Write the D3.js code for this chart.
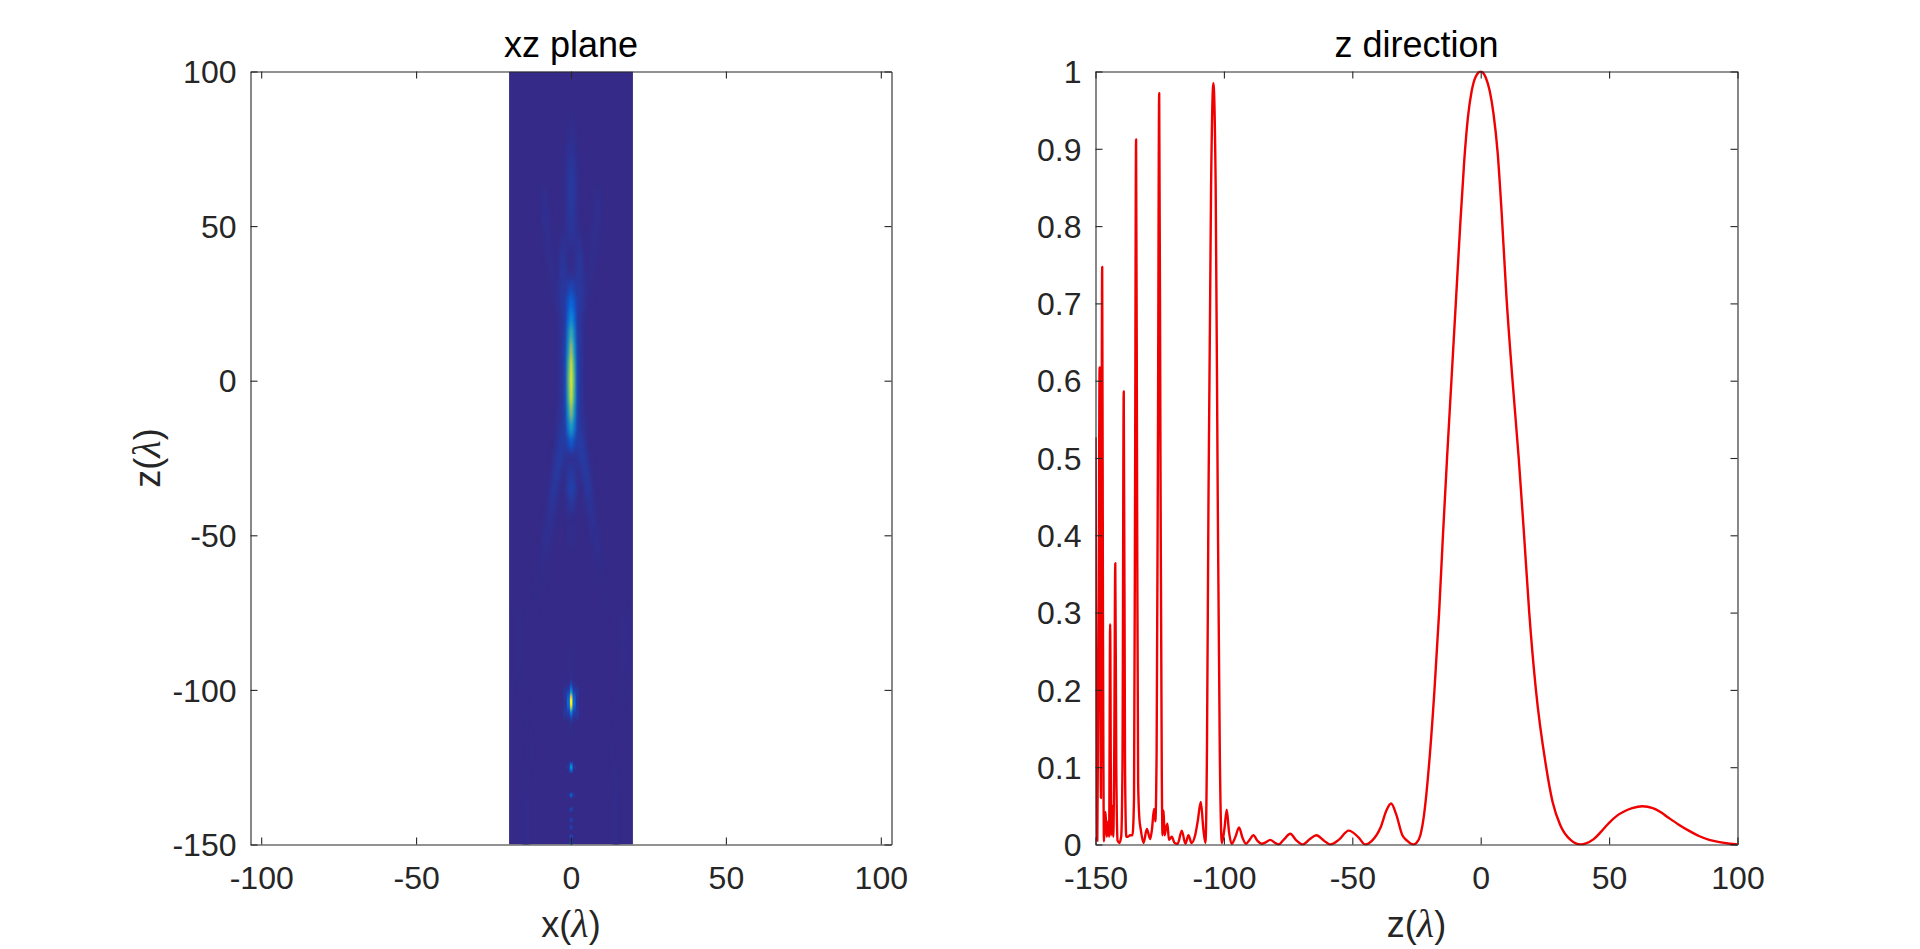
<!DOCTYPE html>
<html>
<head>
<meta charset="utf-8">
<script src="https://cdn.jsdelivr.net/npm/d3@7"></script>
<style>
  html, body { margin: 0; background: white; }
  svg { display: block; }
  text { font-family: "Liberation Sans", Arial, sans-serif; fill: #262626; }
  .lam { font-family: "Liberation Serif", serif; font-style: italic; font-size: 40px; }
</style>
</head>
<body>
<div id="canvas"></div>
<script>
"use strict";

// axis ticks
var planeXTicks = [-100, -50, 0, 50, 100];
var planeZTicks = [-150, -100, -50, 0, 50, 100];
var lineZTicks = [-150, -100, -50, 0, 50, 100];
var lineVTicks = [0, 0.1, 0.2, 0.3, 0.4, 0.5, 0.6, 0.7, 0.8, 0.9, 1];

// z direction curve
var lineZ = [-150, -149.6, -149.3, -148.8, -148.4, -148.1, -147.9, -147.7, -147.4, -147.1, -146.7, -146.1, -145.6, -145, -144.7, -144.3, -143.9, -143.5, -143.1, -142.7, -142.3, -141.9, -141.4, -140.7, -140, -139.5, -139, -138.5, -138, -137.4, -136.5, -135.6, -135, -134.6, -134.2, -133.8, -133.4, -132.9, -132.4, -131.3, -130, -128.7, -128, -127.2, -126.7, -126.2, -125.7, -125.2, -124.7, -124.2, -123.9, -123.5, -123.1, -122.6, -122, -121.4, -120.3, -119.2, -118, -116.4, -115, -113.8, -112.6, -111.2, -110.2, -109, -108, -107.2, -106.6, -106, -105, -104.1, -103.2, -102.4, -101.6, -100.8, -99.8, -98.9, -98, -97, -95.5, -94.1, -92.7, -91.4, -90, -88.5, -87, -85.3, -83.6, -82, -80, -78.7, -76.5, -74.2, -71.7, -69.3, -66.5, -64, -61, -58.6, -55.3, -51.4, -47.5, -45, -42.3, -39, -36.6, -34.9, -33, -30.5, -28.7, -26.2,
  -25, -23.5, -22, -20.2, -18, -16.2, -14.7, -13.1, -11.4, -9.7, -8, -6.4, -5, -3.5, -2, 0, 2, 3.5, 5, 6.6, 8.2, 10, 12.4, 14.8, 16.9, 18.9, 21.5, 25.5, 28, 31, 35, 39,
  41, 44, 47, 50, 53, 56, 59, 63, 67, 70, 73, 77, 81, 85, 89, 93, 97, 100];
var lineV = [0.527, 0.1, 0.005, 0.25, 0.617, 0.3, 0.06, 0.35, 0.747, 0.3, 0.004, 0.042, 0.01, 0.03, 0.01, 0.285, 0.012, 0.05, 0.01, 0.12, 0.364, 0.1, 0.005, 0.002, 0.01, 0.1, 0.586, 0.1, 0.01, 0.01, 0.012, 0.012, 0.06, 0.45, 0.912, 0.45, 0.08, 0.033, 0.02, 0.002, 0.02, 0.007, 0.02, 0.046, 0.03, 0.12, 0.5, 0.972, 0.5, 0.1, 0.012, 0.044, 0.012, 0.02, 0.027, 0.006, 0.01, 0.002, 0.001, 0.018, 0.001, 0.012, 0.002, 0.012, 0.03, 0.055, 0.02, 0.002, 0.12, 0.45, 0.85, 0.985, 0.85, 0.45, 0.12, 0.002, 0.02, 0.045, 0.016, 0.001, 0.01, 0.022, 0.008, 0.001, 0.006, 0.012, 0.005, 0.001, 0.003, 0.006, 0.002, 0, 0.007, 0.014, 0.005, 0, 0.007, 0.012, 0.005, 0, 0.006, 0.018, 0.009, 0, 0.005, 0.022, 0.045, 0.053, 0.04, 0.012, 0.005, 0,
  0.002, 0.012, 0.04, 0.1, 0.2, 0.3, 0.4, 0.5, 0.6, 0.7, 0.8, 0.885, 0.94, 0.975, 0.993, 1, 0.992, 0.975, 0.945, 0.895, 0.815, 0.71, 0.6, 0.5, 0.4, 0.3, 0.2, 0.1, 0.055, 0.025, 0.006, 0,
  0.0015, 0.007, 0.017, 0.028, 0.037, 0.043, 0.047, 0.0495, 0.047, 0.042, 0.035, 0.026, 0.018, 0.011, 0.006, 0.003, 0.001, 0];

// xz plane, coarse rows: z of each row and intensity at |x| = 0, 1, 2, ... (unlisted = 0)
var fieldZ = [90, 85, 80, 75, 70, 65, 60, 55, 50, 45, 40, 35, 30, 25, 20, 15, 10, 5, 0, -5, -10, -15, -20, -25, -30, -35, -40, -45, -50, -55, -60, -70, -80, -90, -100, -110, -120, -130, -140, -150];
var fieldRows = [
  [],
  [0.006],
  [0.012, 0.008],
  [0.02, 0.016, 0.004],
  [0.03, 0.022, 0.008],
  [0.036, 0.03, 0.01],
  [0.036, 0.03, 0.01, 0, 0, 0, 0, 0, 0.008, 0.01, 0.004],
  [0.034, 0.026, 0.008, 0, 0, 0, 0, 0.005, 0.012, 0.012, 0.004],
  [0.03, 0.022, 0.008, 0.004, 0, 0, 0, 0.008, 0.012, 0.01],
  [0.02, 0.016, 0.015, 0.015, 0.005, 0, 0.003, 0.01, 0.01, 0.004],
  [0.004, 0.008, 0.022, 0.028, 0.012, 0, 0.006, 0.01, 0.006],
  [0.01, 0.012, 0.026, 0.03, 0.015, 0.004, 0.008, 0.008],
  [0.07, 0.05, 0.03, 0.03, 0.02, 0.008, 0.008, 0.003],
  [0.16, 0.1, 0.04, 0.03, 0.02, 0.008],
  [0.3, 0.16, 0.04, 0.025, 0.012],
  [0.52, 0.27, 0.05, 0.025, 0.012],
  [0.75, 0.38, 0.06, 0.025, 0.012],
  [0.95, 0.5, 0.07, 0.025, 0.012],
  [1, 0.54, 0.07, 0.025, 0.012],
  [0.96, 0.5, 0.07, 0.025, 0.012],
  [0.72, 0.38, 0.06, 0.025, 0.015],
  [0.42, 0.22, 0.05, 0.03, 0.02, 0.008],
  [0.12, 0.065, 0.04, 0.04, 0.03, 0.012],
  [0.012, 0.015, 0.02, 0.035, 0.04, 0.025, 0.006],
  [0.035, 0.03, 0.01, 0.012, 0.03, 0.035, 0.018, 0.005],
  [0.055, 0.045, 0.01, 0, 0.012, 0.028, 0.03, 0.012],
  [0.03, 0.02, 0.005, 0, 0.004, 0.014, 0.024, 0.018, 0.005],
  [0.005, 0.004, 0, 0, 0, 0.005, 0.012, 0.018, 0.01, 0.003],
  [0.012, 0.008, 0, 0, 0, 0, 0.006, 0.012, 0.014, 0.01],
  [0.005, 0, 0, 0, 0, 0, 0, 0.004, 0.01, 0.01, 0.005],
  [0, 0, 0, 0, 0, 0, 0, 0, 0.002, 0.004, 0.004],
  [0, 0, 0, 0, 0, 0, 0, 0, 0, 0, 0, 0.002, 0.002],
  [0, 0, 0, 0, 0, 0, 0, 0, 0, 0, 0, 0, 0, 0, 0, 0, 0.003, 0.006, 0.003],
  [0.008, 0, 0, 0, 0, 0, 0, 0, 0, 0, 0, 0, 0, 0, 0, 0, 0.003, 0.006, 0.003],
  [0.008, 0, 0, 0, 0, 0, 0, 0, 0, 0, 0, 0, 0, 0, 0, 0, 0.002, 0.003],
  [0.008, 0, 0, 0, 0, 0, 0, 0, 0, 0, 0, 0, 0, 0, 0.002, 0.002],
  [0, 0, 0, 0, 0, 0, 0, 0, 0, 0, 0, 0, 0, 0.002, 0.003],
  [0, 0, 0, 0, 0, 0, 0, 0, 0, 0, 0, 0, 0, 0, 0.005, 0.003],
  [0, 0, 0, 0, 0, 0, 0, 0, 0, 0, 0, 0, 0, 0, 0.006, 0.004],
  [0, 0, 0, 0, 0, 0, 0, 0, 0, 0, 0, 0, 0, 0, 0.006, 0.004]
];

// xz plane, the small spots on the axis, 1 lambda rows
var spotZ = [-97, -98, -99, -100, -101, -102, -103, -104, -105, -106, -107, -108, -109, -110, -124, -125, -126, -134, -138.6, -142, -144.4, -147.4, -149.5];
var spotRows = [
  [0.02],
  [0.05, 0.01],
  [0.12, 0.02, 0.01],
  [0.22, 0.04, 0.025],
  [0.42, 0.07, 0.03],
  [0.72, 0.11, 0.025],
  [0.95, 0.14, 0.02],
  [1, 0.15, 0.015],
  [0.9, 0.14, 0.02],
  [0.6, 0.1, 0.025],
  [0.3, 0.06, 0.03],
  [0.15, 0.03, 0.03],
  [0.07, 0.02, 0.02],
  [0.03, 0.01],
  [0.12],
  [0.36, 0.03],
  [0.12],
  [0.15, 0.02],
  [0.07],
  [0.06],
  [0.06],
  [0.07],
  [0.07]
];

var fieldHalfWidth = 20;

var parulaStops = [0, 0.125, 0.25, 0.375, 0.5, 0.625, 0.75, 0.875, 1];
var parulaColors = ["#352a87", "#0363e1", "#1485d4", "#06a7c6", "#38b99e", "#92bf73", "#d9ba56", "#fcce2e", "#f9fb0e"];

var color = d3.scaleLinear().domain(parulaStops).range(parulaColors);

var svg = d3.select("#canvas").append("svg")
  .attr("width", 1920)
  .attr("height", 949);

var defs = svg.append("defs");
function addBlur(id, sx, sy) {
  defs.append("filter").attr("id", id)
    .attr("x", "-5%").attr("y", "-5%").attr("width", "110%").attr("height", "110%")
    .attr("color-interpolation-filters", "sRGB")
    .append("feGaussianBlur").attr("stdDeviation", sx + " " + sy);
}
addBlur("blurField", 1.2, 5);
addBlur("blurSpot", 0.6, 0.8);

var yTop = 71.5, yBottom = 844.5;

// left panel
var xPlane = d3.scaleLinear().domain([-103.45, 103.45]).range([250.5, 891.5]);
var zPlane = d3.scaleLinear().domain([-150, 100]).range([yBottom, yTop]);

// right panel
var zLine = d3.scaleLinear().domain([-150, 100]).range([1095.5, 1737.5]);
var vLine = d3.scaleLinear().domain([0, 1]).range([yBottom, yTop]);

defs.append("clipPath").attr("id", "planeClip").append("rect")
  .attr("x", xPlane(-fieldHalfWidth))
  .attr("y", yTop)
  .attr("width", xPlane(fieldHalfWidth) - xPlane(-fieldHalfWidth))
  .attr("height", yBottom - yTop);

defs.append("clipPath").attr("id", "lineClip").append("rect")
  .attr("x", 1095.5).attr("y", yTop - 1).attr("width", 642).attr("height", yBottom - yTop + 2);

var plane = svg.append("g").attr("clip-path", "url(#planeClip)");

plane.append("rect")
  .attr("x", xPlane(-fieldHalfWidth))
  .attr("y", yTop)
  .attr("width", xPlane(fieldHalfWidth) - xPlane(-fieldHalfWidth))
  .attr("height", yBottom - yTop)
  .attr("fill", color(0));

// turn a row table into mirrored cells
function cellsOf(rows, rowEdge) {
  var cells = [];
  rows.forEach(function(row, i) {
    var edges = rowEdge(i);
    row.forEach(function(v, k) {
      if (v <= 0) return;
      cells.push({ x0: k - 0.5, x1: k + 0.5, z0: edges[0], z1: edges[1], v: v });
      if (k > 0) cells.push({ x0: -k - 0.5, x1: -k + 0.5, z0: edges[0], z1: edges[1], v: v });
    });
  });
  return cells;
}

function drawCells(parent, cells) {
  parent.selectAll("rect").data(cells).enter()
    .append("rect")
    .attr("x", function(d){ return xPlane(d.x0); })
    .attr("y", function(d){ return zPlane(d.z1); })
    .attr("width", function(d){ return xPlane(d.x1) - xPlane(d.x0) + 0.3; })
    .attr("height", function(d){ return zPlane(d.z0) - zPlane(d.z1) + 0.3; })
    .attr("fill", function(d){ return color(d.v); });
}

var fieldCells = cellsOf(fieldRows, function(i) {
  var hi = i > 0 ? (fieldZ[i - 1] + fieldZ[i]) / 2 : fieldZ[i] + 2.5;
  var lo = i < fieldZ.length - 1 ? (fieldZ[i] + fieldZ[i + 1]) / 2 : fieldZ[i] - 2.5;
  return [lo, hi];
});
var spotCells = cellsOf(spotRows, function(i) {
  return [spotZ[i] - 0.5, spotZ[i] + 0.5];
});

drawCells(plane.append("g").attr("filter", "url(#blurField)"), fieldCells);
drawCells(plane.append("g").attr("filter", "url(#blurSpot)"), spotCells);

// right curve
var curve = d3.line()
  .x(function(d){ return zLine(d); })
  .y(function(d, i){ return vLine(lineV[i]); })
  .curve(d3.curveMonotoneX);

svg.append("g").attr("clip-path", "url(#lineClip)").append("path")
  .attr("d", curve(lineZ))
  .attr("fill", "none")
  .attr("stroke", "#f00000")
  .attr("stroke-width", 2.4)
  .attr("stroke-linejoin", "round");

// axes, ticks point inward on all four sides as in matlab
function drawBox(xScale, yScale, xTicks, yTicks) {
  var ax = [
    d3.axisBottom(xScale).tickValues(xTicks).tickSizeInner(-7).tickSizeOuter(0).tickPadding(22).tickFormat(String),
    d3.axisTop(xScale).tickValues(xTicks).tickSizeInner(-7).tickSizeOuter(0).tickFormat(""),
    d3.axisLeft(yScale).tickValues(yTicks).tickSizeInner(-7).tickSizeOuter(0).tickPadding(14).tickFormat(String),
    d3.axisRight(yScale).tickValues(yTicks).tickSizeInner(-7).tickSizeOuter(0).tickFormat("")
  ];
  var xr = xScale.range();
  var pos = ["translate(0," + yBottom + ")", "translate(0," + yTop + ")",
    "translate(" + xr[0] + ",0)", "translate(" + xr[1] + ",0)"];
  ax.forEach(function(a, i) {
    var g = svg.append("g").attr("transform", pos[i]).call(a);
    g.selectAll("path, line").attr("stroke", "#262626").attr("stroke-width", 1.1);
    g.selectAll("text")
      .attr("fill", "#262626")
      .style("font-size", "32px")
      .style("font-family", "'Liberation Sans', Arial, sans-serif");
    if (i === 2) g.selectAll("text").attr("dy", "0.35em");
  });
}

drawBox(xPlane, zPlane, planeXTicks, planeZTicks);
drawBox(zLine, vLine, lineZTicks, lineVTicks);

// titles and labels
function title(x, txt) {
  svg.append("text").attr("x", x).attr("y", 57)
    .attr("text-anchor", "middle")
    .style("font-size", "36px")
    .style("fill", "#000")
    .text(txt);
}
title(571, "xz plane");
title(1416.5, "z direction");

function lamLabel(x, y, name, rotate) {
  var t = svg.append("text")
    .attr("text-anchor", "middle")
    .style("font-size", "36px")
    .attr("transform", "translate(" + x + "," + y + ")" + (rotate ? " rotate(-90)" : ""));
  t.append("tspan").text(name + "(");
  t.append("tspan").attr("class", "lam").text("λ");
  t.append("tspan").text(")");
}
lamLabel(571, 937, "x", false);
lamLabel(1416.5, 937, "z", false);
lamLabel(160, 458, "z", true);
</script>
</body>
</html>
